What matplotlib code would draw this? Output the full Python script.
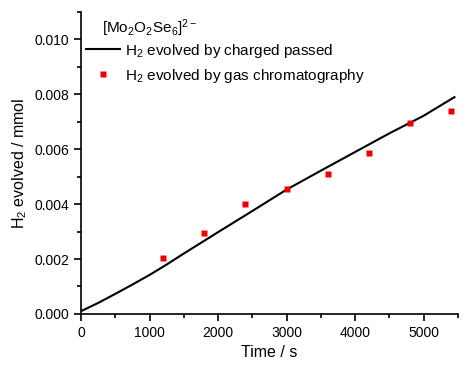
import matplotlib.pyplot as plt
from matplotlib.ticker import MultipleLocator

plt.rcParams['font.family'] = ['Liberation Sans', 'DejaVu Sans']
plt.rcParams['mathtext.fontset'] = 'custom'
plt.rcParams['mathtext.rm'] = 'Liberation Sans'
plt.rcParams['mathtext.it'] = 'Liberation Sans'

# charge-passed curve
line_t = [0, 250, 500, 750, 1000, 1250, 1500, 1750, 2000, 2500, 3000, 3500,
          4000, 4500, 5000, 5450]
line_h2 = [0.0001, 0.0004, 0.00073, 0.00107, 0.00142, 0.0018, 0.0022, 0.00259,
           0.00298, 0.00375, 0.00453, 0.00522, 0.0059, 0.00658, 0.00722, 0.0079]

# gas chromatography points
gc_t = [1200, 1800, 2400, 3000, 3600, 4200, 4800, 5400]
gc_h2 = [0.00205, 0.00295, 0.0040, 0.00455, 0.0051, 0.00585, 0.00695, 0.0074]

fig = plt.figure(figsize=(4.74, 3.65), dpi=100)
ax = fig.add_axes([0.171, 0.140, 0.795, 0.827])

ax.plot(line_t, line_h2, color='black', lw=1.5, label=r'H$_2$ evolved by charged passed')
ax.plot(gc_t, gc_h2, 's', color='#ee0000', ms=5, mec='none',
        label=r'H$_2$ evolved by gas chromatography')

ax.set_xlim(0, 5500)
ax.set_ylim(0, 0.011)
ax.xaxis.set_major_locator(MultipleLocator(1000))
ax.xaxis.set_minor_locator(MultipleLocator(500))
ax.yaxis.set_major_locator(MultipleLocator(0.002))
ax.yaxis.set_minor_locator(MultipleLocator(0.001))
ax.yaxis.set_major_formatter(plt.FormatStrFormatter('%.3f'))

for s in ['top', 'right']:
    ax.spines[s].set_visible(False)
ax.spines['left'].set_linewidth(1.2)
ax.spines['bottom'].set_linewidth(1.2)
ax.tick_params(which='major', direction='out', length=5, width=1.2, labelsize=10)
ax.tick_params(which='minor', direction='out', length=3, width=1.2)

ax.set_xlabel('Time / s', fontsize=11.5)
ax.set_ylabel(r'H$_2$ evolved / mmol', fontsize=11.5)

ax.text(0.056, 0.947, r'[Mo$_2$O$_2$Se$_6$]$^{2-}$', transform=ax.transAxes,
        fontsize=11, va='center', ha='left')
ax.legend(loc='upper left', bbox_to_anchor=(-0.003, 0.922), frameon=False,
          fontsize=11, handlelength=2.2, handletextpad=0.35,
          labelspacing=0.45, borderaxespad=0.0)

fig.savefig('out.png', dpi=100)
